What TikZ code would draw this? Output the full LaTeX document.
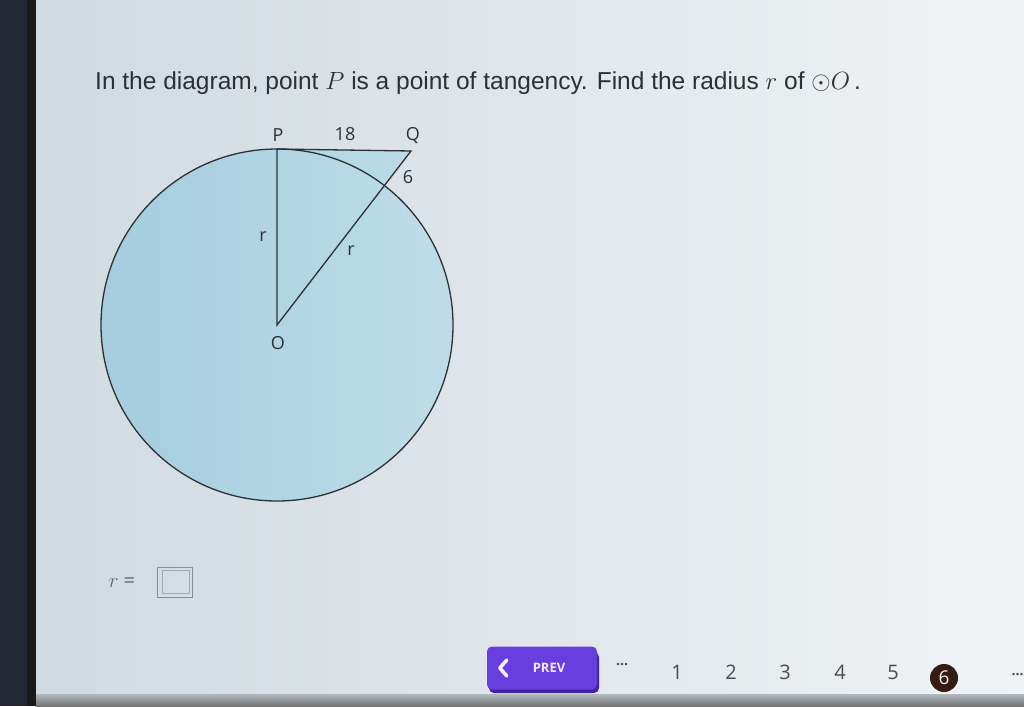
\documentclass[tikz,border=0pt]{standalone}
\usepackage{fontspec}
\setmainfont{Liberation Sans}
\newfontfamily\figfont{Open Sans}
\usetikzlibrary{positioning,calc}
\definecolor{screenL}{RGB}{208,218,225}
\definecolor{screenR}{RGB}{240,243,245}
\definecolor{bezel}{RGB}{34,40,52}
\definecolor{diskL}{RGB}{164,205,222}
\definecolor{diskR}{RGB}{190,221,232}
\definecolor{inkgray}{RGB}{45,48,52}
\definecolor{prevviolet}{RGB}{104,62,222}
\definecolor{prevshadow}{RGB}{66,34,160}
\definecolor{pagebrown}{RGB}{52,28,20}

\begin{document}
\begin{tikzpicture}[x=1pt,y=-1pt,
  title/.style={font=\fontsize{24.5}{27}\selectfont, text=inkgray, anchor=base west, inner sep=0pt},
  lbl/.style={font=\figfont\fontsize{18}{18}\selectfont, text=inkgray, inner sep=1pt},
  edge/.style={draw=inkgray, line width=1.3pt},
  pagenum/.style={font=\figfont\fontsize{20}{20}\selectfont, text=black!70},
  prevbtn/.style={fill=prevviolet, rounded corners=5pt, minimum width=110pt,
                  minimum height=43pt, text=white!90!prevviolet,
                  font=\figfont\bfseries\fontsize{13}{13}\selectfont}
]
  \useasboundingbox (0,0) rectangle (1024,706);

  % screen and bezel
  \shade[left color=screenL, right color=screenR] (35,0) rectangle (1024,706);
  \fill[bezel] (0,0) rectangle (28,706);
  \fill[black!90] (27,0) rectangle (36,706);
  \shade[top color=screenL!85!black, bottom color=black!55] (36,694) rectangle (1024,706);

  % question
  \node[title] (question) at (95,90)
    {In the diagram, point $P$ is a point of tangency. Find the radius $r$ of $\odot O$\,.};

  % circle and tangent triangle
  \coordinate (O) at (277,325);
  \coordinate (P) at (277,149);
  \coordinate (Q) at (411,151);
  \shade[left color=diskL, right color=diskR] (O) circle (176) (P) -- (Q) -- (O) -- cycle;
  \draw[edge] (O) circle (176);
  \draw[edge] (P) -- (Q) -- (O) -- cycle;

  \node[lbl] (lP)  at (278,135) {P};
  \node[lbl] (l18) at (345,134) {18};
  \node[lbl] (lQ)  at (413,136) {Q};
  \node[lbl] (l6)  at (408,177) {6};
  \node[lbl] (lr1) at (263,237) {r};
  \node[lbl] (lr2) at (351,251) {r};
  \node[lbl] (lO)  at (278,343) {O};

  % answer field
  \node[font=\figfont\fontsize{20}{20}\selectfont, text=black!60] (req) at (122,583) {$r$ =};
  \node[draw=black!45, line width=1pt, minimum width=35pt, minimum height=30pt] (ansbox) at (175,582) {};
  \node[draw=black!35, line width=0.8pt, minimum width=27pt, minimum height=23pt] (ansin) at (176,582) {};

  % navigation
  \fill[prevshadow, rounded corners=5pt] (489,652) rectangle (599,693);
  \node[prevbtn] (prev) at (542,668) {\hspace{14pt}PREV};
  \draw[white!92!prevviolet, line width=3.5pt, line cap=round, line join=round]
    ($(prev.west)+(20,-8)$) -- ++(-7,8) -- ++(7,8);
  \node[pagenum, font=\figfont\bfseries\fontsize{14}{14}\selectfont] (dotsL) at (622,666) {\textperiodcentered\textperiodcentered\textperiodcentered};
  \foreach \n/\x in {1/677, 2/731, 3/785, 4/840, 5/893}
    \node[pagenum] (page\n) at (\x,672) {\n};
  \node[circle, fill=pagebrown, minimum size=28pt, inner sep=0pt, text=white!85!brown,
        font=\figfont\fontsize{19}{19}\selectfont] (page6) at (944,678) {6};
  \node[pagenum, font=\figfont\bfseries\fontsize{14}{14}\selectfont, anchor=west] (dotsR) at (1008,676) {\textperiodcentered\textperiodcentered\textperiodcentered};
\end{tikzpicture}
\end{document}
